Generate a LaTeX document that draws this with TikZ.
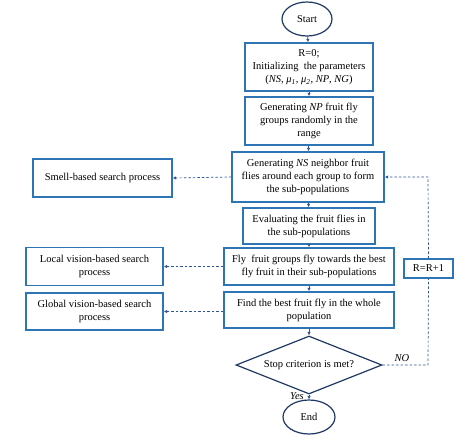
\documentclass[tikz,border=0pt]{standalone}
\usepackage{fontspec}
\setmainfont{Liberation Serif}
\usetikzlibrary{shapes.geometric,arrows.meta}
\definecolor{boxblue}{HTML}{2E75B6}
\definecolor{darkblue}{HTML}{1F3864}
\definecolor{arrblue}{HTML}{2F5597}
\begin{document}
\begin{tikzpicture}[x=1pt,y=-1pt,
  every node/.style={font=\fontsize{10.5}{13}\selectfont, align=center, inner sep=1pt},
  proc/.style={draw=boxblue, line width=1.4pt, rectangle},
  term/.style={draw=darkblue, line width=1.2pt, ellipse, inner sep=0pt},
  dec/.style={draw=darkblue, line width=1.2pt, diamond, aspect=4.8, inner sep=0pt},
  flow/.style={draw=arrblue, line width=0.7pt, -{Latex[length=3.5pt,width=3.5pt]}},
  dflow/.style={draw=arrblue, line width=0.7pt, dash pattern=on 2.5pt off 2pt, -{Latex[length=3.5pt,width=3.5pt]}},
  dline/.style={draw=arrblue, line width=0.7pt, dash pattern=on 2.5pt off 2pt}]
\useasboundingbox (0,0) rectangle (474,440);
\fill[white] (0,0) rectangle (474,440);
\node[term, minimum width=50pt, minimum height=34pt] (start) at (307,19) {Start};
\node[proc, minimum width=128pt, minimum height=48pt] (b1) at (309,67) {R=0;\\Initializing\ \ the parameters\\(\textit{NS}, \textit{μ\textsubscript{1}}, \textit{μ\textsubscript{2}}, \textit{NP}, \textit{NG})};
\node[proc, minimum width=128pt, minimum height=48pt] (b2) at (309,121) {Generating \textit{NP} fruit fly\\groups randomly in the\\range};
\node[proc, minimum width=152pt, minimum height=50pt] (b3) at (308,177) {Generating \textit{NS} neighbor fruit\\flies around each group to form\\the sub-populations};
\node[proc, minimum width=132pt, minimum height=36pt] (b4) at (309,226) {Evaluating the fruit flies in\\the sub-populations};
\node[proc, minimum width=170pt, minimum height=37pt] (b5) at (309,266.5) {Fly\ \ fruit groups fly towards the best\\fly fruit in their sub-populations};
\node[proc, minimum width=170pt, minimum height=36pt] (b6) at (309,310) {Find the best fruit fly in the whole\\population};
\node[dec, minimum width=146pt, minimum height=58pt] (d) at (309,365) {Stop criterion is met?};
\node[term, minimum width=52pt, minimum height=34pt] (end) at (309,417) {End};
\node[proc, minimum width=139pt, minimum height=38pt] (smell) at (102.5,178) {Smell-based search process};
\node[proc, minimum width=137pt, minimum height=38pt] (local) at (94.5,266.5) {Local vision-based search\\process};
\node[proc, minimum width=137pt, minimum height=37pt] (global) at (94.5,311.5) {Global vision-based search\\process};
\node[proc, minimum width=49pt, minimum height=19pt] (rr) at (428.5,268.5) {R=R+1};
\coordinate (c1) at (428,365);
\coordinate (c2) at (428,177);
\draw[flow] (start) -- (b1);
\draw[flow] (b1) -- (b2);
\draw[flow] (b2) -- (b3);
\draw[flow] (b3) -- (b4);
\draw[flow] (b4) -- (b5);
\draw[flow] (b5) -- (b6);
\draw[flow] (b6) -- (d);
\draw[flow] (d) -- (end);
\draw[dflow] (b3.west) -- (smell.east);
\draw[dflow] (b5.west) -- (local.east);
\draw[dflow] (b6.west |- global.east) -- (global.east);
\draw[dline] (d.east) -- (c1) -- (rr.south);
\draw[dflow] (rr.north) -- (c2) -- (b3.east);
\node[anchor=south] (no) at (402,363) {\textit{NO}};
\node[anchor=east] (yes) at (305,396) {\textit{Yes}};
\end{tikzpicture}
\end{document}
